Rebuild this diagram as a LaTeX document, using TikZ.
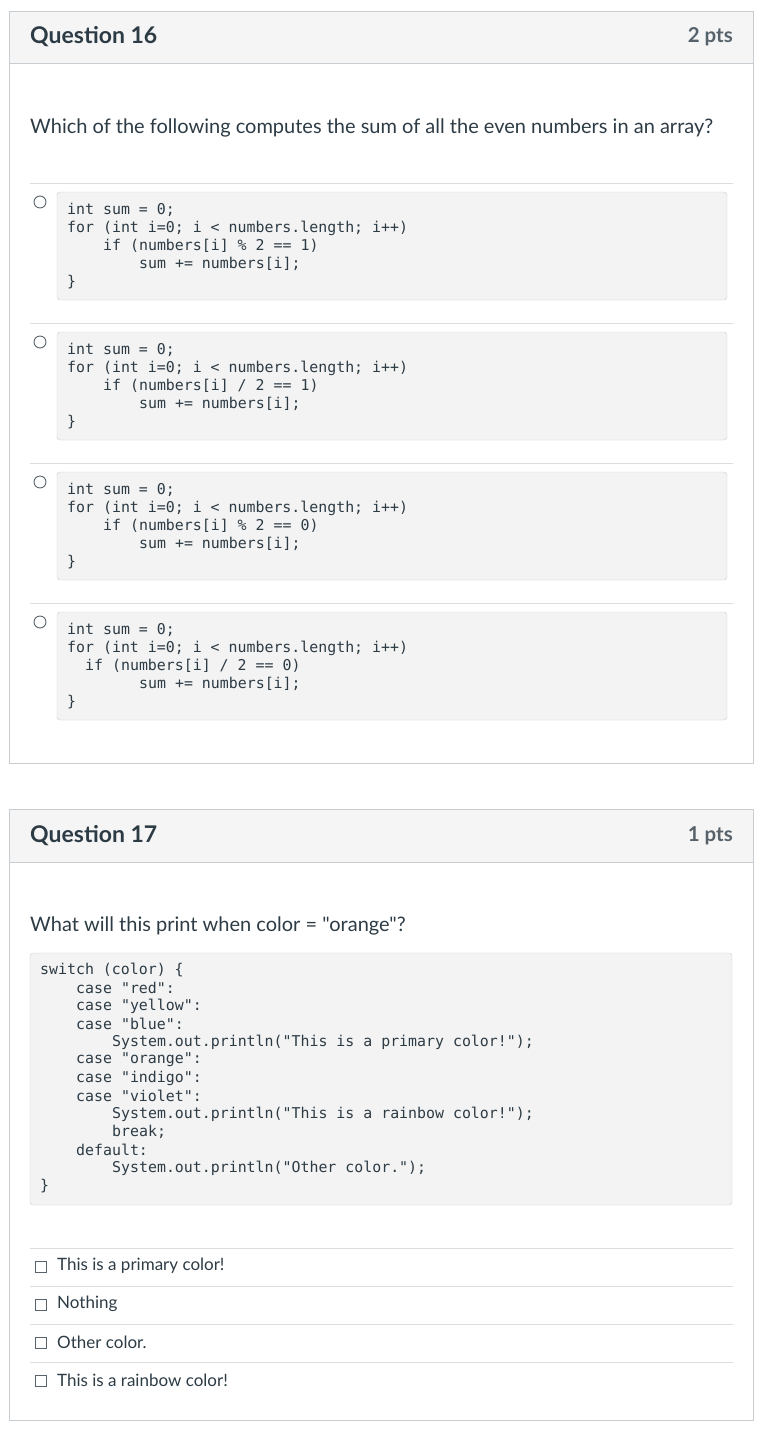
\documentclass[tikz,border=0pt]{standalone}
\usepackage{fontspec}
\setmainfont{Lato}
\newfontfamily\plainlato{Lato}
\newfontfamily\codefont{DejaVu Sans Mono}
\definecolor{hdr}{HTML}{F5F5F5}
\definecolor{brd}{HTML}{C7CDD1}
\definecolor{codebg}{HTML}{F3F3F3}
\definecolor{txt}{HTML}{2D3B45}
\definecolor{sep}{HTML}{DDDDDD}
\begin{document}
\begin{tikzpicture}[x=1pt,y=-1pt,
  title/.style={anchor=west,inner sep=0,font=\fontsize{23}{26}\selectfont\bfseries,text=txt},
  pts/.style={anchor=east,inner sep=0,font=\fontsize{20.5}{24}\selectfont\bfseries,text=txt!80},
  qtext/.style={anchor=west,inner sep=0,font=\fontsize{20}{24}\selectfont,text=txt},
  code/.style={anchor=west,inner sep=0,font=\codefont\fontsize{14.9}{17}\selectfont,text=txt},
  opt/.style={anchor=west,inner sep=0,font=\fontsize{17}{20}\selectfont,text=txt},
  cbox/.style={draw=brd,fill=codebg,rounded corners=3pt},
  seprule/.style={draw=sep,line width=0.8pt},
  radio/.style={draw=txt!80,line width=0.9pt}]
\useasboundingbox (0,0) rectangle (764,1438);
% Question 16
\draw[brd,fill=hdr] (9,11) rectangle (753,63);
\draw[brd] (9,11) rectangle (753,763);
\node[title] (t16) at (30,37) {Question 16};
\node[pts] (p16) at (733,37) {2 pts};
\node[qtext] (q16) at (30,128) {Which of the following computes the sum of all the even numbers in an array?};
\foreach \y/\op/\rhs/\ind in {192/\%/1/36, 332/{/}/1/36, 472/\%/0/36, 612/{/}/0/18}{
  \draw[seprule] (30,\y-9) -- (733,\y-9);
  \draw[radio] (40,\y+10) circle (6);
  \draw[cbox] (57,\y) rectangle (727,\y+108);
  \node[code] at (67,\y+18) {int sum = 0;};
  \node[code] at (67,\y+36) {for (int i=0; i < numbers.length; i++)};
  \node[code] at (67+\ind,\y+54) {if (numbers[i] \op{} 2 == \rhs)};
  \node[code] at (139,\y+72) {sum += numbers[i];};
  \node[code] at (67,\y+90) {\}};
}
% Question 17
\draw[brd,fill=hdr] (9,809) rectangle (753,862);
\draw[brd] (9,809) rectangle (753,1420);
\node[title] (t17) at (30,836) {Question 17};
\node[pts] (p17) at (733,836) {1 pts};
\node[qtext] (q17) at (30,926) {\plainlato What will this print when color = "orange"?};
\draw[cbox] (30,953) rectangle (732,1205);
\node[code] at (40,970) {switch (color) \{};
\node[code] at (76,988) {case "red":};
\node[code] at (76,1006) {case "yellow":};
\node[code] at (76,1024) {case "blue":};
\node[code] at (112,1042) {System.out.println("This is a primary color!");};
\node[code] at (76,1060) {case "orange":};
\node[code] at (76,1078) {case "indigo":};
\node[code] at (76,1096) {case "violet":};
\node[code] at (112,1114) {System.out.println("This is a rainbow color!");};
\node[code] at (112,1132) {break;};
\node[code] at (76,1150) {default:};
\node[code] at (112,1168) {System.out.println("Other color.");};
\node[code] at (40,1186) {\}};
\foreach \y/\t in {1248/This is a primary color!, 1286/Nothing, 1324/Other color., 1362/This is a rainbow color!}{
  \draw[seprule] (30,\y) -- (733,\y);
  \draw[draw=txt!80,line width=0.9pt] (35,\y+13) rectangle (46,\y+24);
  \node[opt] at (57,\y+18) {\t};
}
\end{tikzpicture}
\end{document}
